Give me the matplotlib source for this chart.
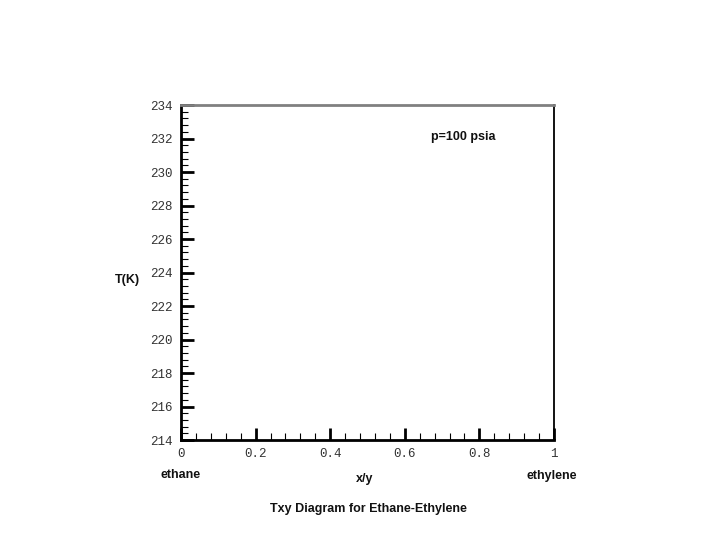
import numpy as np
import matplotlib
matplotlib.use("Agg")
import matplotlib.pyplot as plt
from matplotlib.ticker import MultipleLocator, FixedLocator

# axis ranges and ticks
x_range = [0.0, 1.0]
y_range = [214, 234]
x_ticks = [0, 0.2, 0.4, 0.6, 0.8, 1.0]
x_tick_labels = ["0", "0.2", "0.4", "0.6", "0.8", "1"]
y_ticks = [214, 216, 218, 220, 222, 224, 226, 228, 230, 232, 234]

title_text = "Txy Diagram for Ethane-Ethylene"
x_label = "x/y"
y_label = "T(K)"
left_comp = "ethane"
right_comp = "ethylene"
pressure_note = "p=100 psia"

fig = plt.figure(figsize=(7.28, 5.46), dpi=100)
ax = fig.add_axes([181 / 728, 1 - 440 / 546, (554 - 181) / 728, (440 - 105) / 546])

ax.set_xlim(x_range)
ax.set_ylim(y_range)
ax.xaxis.set_major_locator(FixedLocator(x_ticks))
ax.set_xticklabels(x_tick_labels)
ax.xaxis.set_minor_locator(MultipleLocator(0.04))
ax.yaxis.set_major_locator(FixedLocator(y_ticks))
ax.yaxis.set_minor_locator(MultipleLocator(0.4))

ax.tick_params(which="major", direction="in", length=9, width=2, color="black",
               top=False, right=False, labelsize=9, labelcolor="#333333", pad=6)
ax.tick_params(which="minor", direction="in", length=5, width=0.8, color="black",
               top=False, right=False)
for lab in ax.get_xticklabels() + ax.get_yticklabels():
    lab.set_family("Liberation Mono")

ax.spines["left"].set_linewidth(2)
ax.spines["bottom"].set_linewidth(2)
ax.spines["right"].set_linewidth(1.3)
ax.spines["top"].set_linewidth(2)
ax.spines["top"].set_color("#808080")

bold = dict(family="Liberation Sans", fontweight="bold", fontsize=9, color="#111111")
fig.text(127 / 728, 1 - 280 / 546, y_label, ha="center", va="center", **bold)
fig.text(181 / 728, 1 - 475 / 546, left_comp, ha="center", va="center", **bold)
fig.text(552 / 728, 1 - 476 / 546, right_comp, ha="center", va="center", **bold)
fig.text(365 / 728, 1 - 479 / 546, x_label, ha="center", va="center", **bold)
fig.text(368 / 728, 1 - 509 / 546, title_text, ha="center", va="center", **bold)
fig.text(463 / 728, 1 - 137 / 546, pressure_note, ha="center", va="center", **bold)

fig.savefig("out.png", dpi=100)
